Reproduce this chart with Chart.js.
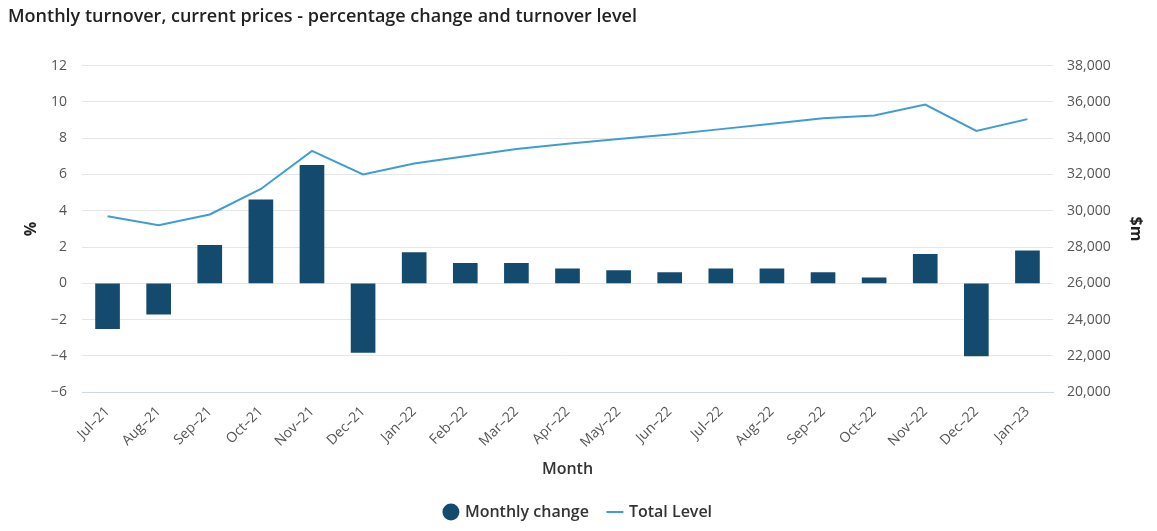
<!DOCTYPE html>
<html>
<head>
<meta charset="utf-8">
<script src="https://cdn.jsdelivr.net/npm/chart.js@4"></script>
<style>
  html, body { margin: 0; padding: 0; background: #fff; }
  #wrap { width: 1157px; height: 531px; position: relative; }
</style>
</head>
<body>
<div id="wrap"><canvas id="chart"></canvas></div>
<script>
// Data
const months = ['Jul–21', 'Aug–21', 'Sep–21', 'Oct–21', 'Nov–21', 'Dec–21', 'Jan–22', 'Feb–22', 'Mar–22',
    'Apr–22', 'May–22', 'Jun–22', 'Jul–22', 'Aug–22', 'Sep–22', 'Oct–22', 'Nov–22', 'Dec–22', 'Jan–23'];
const monthlyChange = [-2.5, -1.7, 2.1, 4.6, 6.5, -3.8, 1.7, 1.1, 1.1, 0.8, 0.7, 0.6, 0.8, 0.8, 0.6, 0.3, 1.6, -4.0, 1.8];
const totalLevel = [29700, 29200, 29800, 31200, 33300, 32000, 32600, 33000, 33400, 33700, 33950, 34200,
    34500, 34800, 35100, 35250, 35850, 34400, 35050];

const FONT = '"Open Sans", "Noto Sans", sans-serif';
const BAR_COLOR = '#144a6e';
const LINE_COLOR = '#3f9dd6';

// Real minus sign on negative tick values
function minus(v) {
    return String(v).replace('-', '\u2212');
}

function renderChart() {
    const ctx = document.getElementById('chart').getContext('2d');
    new Chart(ctx, {
        data: {
            labels: months,
            datasets: [
                {
                    type: 'line',
                    label: 'Total Level',
                    data: totalLevel,
                    yAxisID: 'y1',
                    borderColor: LINE_COLOR,
                    backgroundColor: LINE_COLOR,
                    borderWidth: 2,
                    pointRadius: 0,
                    pointStyle: 'line',
                    tension: 0,
                    order: 0
                },
                {
                    type: 'bar',
                    label: 'Monthly change',
                    data: monthlyChange,
                    yAxisID: 'y',
                    backgroundColor: BAR_COLOR,
                    pointStyle: 'circle',
                    barThickness: 24,
                    order: 1
                }
            ]
        },
        options: {
            responsive: true,
            maintainAspectRatio: false,
            animation: false,
            layout: { padding: { left: 8, right: 8, top: 6, bottom: 1 } },
            plugins: {
                title: {
                    display: true,
                    text: 'Monthly turnover, current prices - percentage change and turnover level',
                    align: 'start',
                    color: '#222',
                    font: { family: FONT, size: 18, weight: '600' },
                    padding: { top: 0, bottom: 38 }
                },
                legend: {
                    position: 'bottom',
                    reverse: true,
                    labels: {
                        usePointStyle: true,
                        boxWidth: 12,
                        boxHeight: 12,
                        padding: 20,
                        color: '#333',
                        font: { family: FONT, size: 16, weight: '600' }
                    }
                },
                tooltip: { enabled: false }
            },
            scales: {
                x: {
                    grid: { display: false },
                    border: { color: '#ccd6eb' },
                    ticks: {
                        color: '#555',
                        font: { family: FONT, size: 14 },
                        maxRotation: 45,
                        minRotation: 45,
                        autoSkip: false
                    },
                    title: {
                        display: true,
                        text: 'Month',
                        color: '#333',
                        font: { family: FONT, size: 16, weight: '600' },
                        padding: { top: 6, bottom: 5 }
                    }
                },
                y: {
                    position: 'left',
                    min: -6,
                    max: 12,
                    grid: { color: '#e6e6e6', drawTicks: false },
                    border: { display: false },
                    ticks: {
                        stepSize: 2,
                        color: '#555',
                        padding: 15,
                        font: { family: FONT, size: 14 },
                        callback: v => minus(v)
                    },
                    title: {
                        display: true,
                        text: '%',
                        color: '#222',
                        font: { family: FONT, size: 16, weight: '700' },
                        padding: { top: 14, bottom: 4 }
                    },
                    afterFit: scale => { scale.width = 74; }
                },
                y1: {
                    position: 'right',
                    min: 20000,
                    max: 38000,
                    grid: { display: false, drawTicks: false },
                    border: { display: false },
                    ticks: {
                        stepSize: 2000,
                        color: '#555',
                        padding: 14,
                        font: { family: FONT, size: 14 },
                        callback: v => v.toLocaleString('en-US')
                    },
                    title: {
                        display: true,
                        text: '$m',
                        color: '#222',
                        font: { family: FONT, size: 16, weight: '700' }
                    },
                    afterFit: scale => { scale.width = 96; }
                }
            }
        }
    });
}

window.onload = renderChart;
</script>
</body>
</html>
